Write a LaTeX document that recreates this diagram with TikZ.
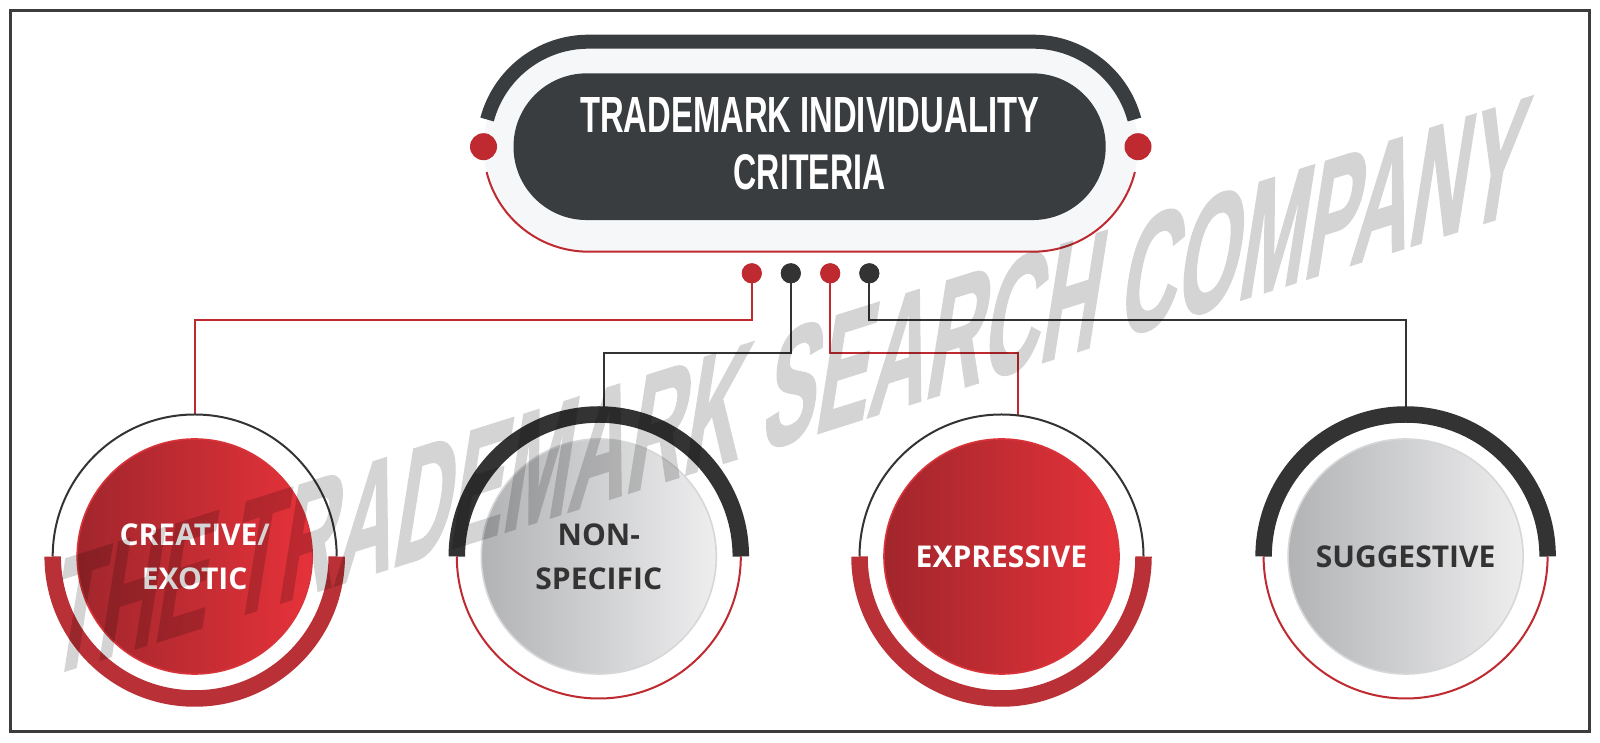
\documentclass[tikz,border=0pt]{standalone}
\usepackage{fontspec}
\setmainfont{Open Sans}
\newfontfamily\hfont{Liberation Sans}
\newfontfamily\wmfont{Liberation Sans}[BoldFeatures={FakeBold=1.5}]
\usepackage{graphicx}
\definecolor{rd}{HTML}{BE2A30}
\definecolor{rdband}{HTML}{B93036}
\definecolor{dk}{HTML}{333333}
\definecolor{hdk}{HTML}{3A3D3F}
\definecolor{framec}{HTML}{3C3C3C}
\definecolor{paleback}{HTML}{F6F7F9}
\definecolor{redL}{HTML}{A1262C}
\definecolor{redR}{HTML}{E6323A}
\definecolor{redrim}{HTML}{D9343A}
\definecolor{grayL}{HTML}{B2B3B5}
\definecolor{grayR}{HTML}{EEEEEF}
\definecolor{grayrim}{HTML}{D6D7D8}
\begin{document}
\begin{tikzpicture}[x=0.5pt,y=0.5pt,
  thinred/.style={draw=rd,line width=1pt},
  thindark/.style={draw=dk,line width=1pt},
  bandred/.style={draw=rdband,line width=8.25pt},
  banddark/.style={draw=dk,line width=8.25pt},
  lbl/.style={font=\bfseries\fontsize{15}{22}\selectfont,align=center},
  redfill/.style={circle,minimum size=117.5pt,inner sep=0pt,left color=redL,right color=redR,draw=redrim,line width=0.8pt,text=white,lbl},
  grayfill/.style={circle,minimum size=117.5pt,inner sep=0pt,left color=grayL,right color=grayR,draw=grayrim,line width=0.8pt,text=dk,lbl},
  dotr/.style={circle,fill=rd,minimum size=10pt,inner sep=0pt},
  dotd/.style={circle,fill=dk,minimum size=10pt,inner sep=0pt},
  hdot/.style={circle,fill=rd,minimum size=13.5pt,inner sep=0pt},
  wirered/.style={draw=rd,line width=1pt},
  wiredark/.style={draw=dk,line width=1pt}
]
\fill[white] (0,0) rectangle (1600,743);
\useasboundingbox (0,0) rectangle (1600,743);
% frame
\draw[framec,line width=1.5pt] (10.5,11) rectangle (1589.5,732.5);

% header ring
\fill[paleback] (588.5,491.3) -- (1033,491.3) arc[start angle=-90,end angle=90,radius=105]
   -- (588.5,701.3) arc[start angle=90,end angle=270,radius=105] -- cycle;
\draw[hdk,line width=7pt] (588.5,596.3) ++(165:105) arc[start angle=165,end angle=90,radius=105]
   -- (1033,701.3) arc[start angle=90,end angle=15,radius=105];
\draw[thinred] (1033,596.3) ++(-14:105) arc[start angle=-14,end angle=-90,radius=105]
   -- (588.5,491.3) arc[start angle=270,end angle=194,radius=105];
\node[hdot] (hl) at (483.5,596.3) {};
\node[hdot] (hr) at (1138,596.3) {};
\node[rectangle,rounded corners=36.6pt,minimum width=296.1pt,minimum height=73.35pt,
      fill=hdk,inner sep=0pt,text=white,align=center,
      font=\hfont\bfseries\fontsize{20}{28.75}\selectfont] (hdr) at (809.6,596.3)
  {\resizebox{229.5pt}{17.5pt}{TRADEMARK INDIVIDUALITY}\\
   \resizebox{75.8pt}{17.5pt}{CRITERIA}\rule[-3pt]{0pt}{3pt}};

% connector levels and ends
\coordinate (lvA) at (0,423);
\coordinate (lvB) at (0,390.3);
\coordinate (t1) at (194.7,328.5);
\coordinate (t2) at (604.3,328.4);
\coordinate (t3) at (1017.7,327.6);
\coordinate (t4) at (1405.6,328.5);

\node[dotr] (d1) at (751.8,469.7) {};
\node[dotd] (d2) at (790.8,469.7) {};
\node[dotr] (d3) at (830.2,469.7) {};
\node[dotd] (d4) at (869.3,469.7) {};

\draw[wirered] (d1.center) -- (d1 |- lvA) -| (t1);
\draw[wiredark] (d2.center) -- (d2 |- lvB) -| (t2);
\draw[wirered] (d3.center) -- (d3 |- lvB) -| (t3);
\draw[wiredark] (d4.center) -- (d4 |- lvA) -| (t4);
\node[dotr] at (d1) {};
\node[dotd] at (d2) {};
\node[dotr] at (d3) {};
\node[dotd] at (d4) {};

% circles
\node[redfill] (n1) at (194.7,186.5) {CREATIVE/\\EXOTIC};
\node[grayfill] (n2) at (598.8,186.5) {NON-\\SPECIFIC};
\node[redfill] (n3) at (1001.5,186.5) {EXPRESSIVE};
\node[grayfill] (n4) at (1405.6,186.5) {SUGGESTIVE};

\draw[thindark] (n1.center) ++(-142,0) arc[start angle=180,end angle=0,radius=142];
\draw[bandred] (n1.center) ++(-142,0) arc[start angle=180,end angle=360,radius=142];
\draw[thinred] (n2.center) ++(-142,0) arc[start angle=180,end angle=360,radius=142];
\draw[banddark] (n2.center) ++(-142,0) arc[start angle=180,end angle=0,radius=142];
\draw[thindark] (n3.center) ++(-142,0) arc[start angle=180,end angle=0,radius=142];
\draw[bandred] (n3.center) ++(-142,0) arc[start angle=180,end angle=360,radius=142];
\draw[thinred] (n4.center) ++(-142,0) arc[start angle=180,end angle=360,radius=142];
\draw[banddark] (n4.center) ++(-142,0) arc[start angle=180,end angle=0,radius=142];

% watermark
\begin{scope}[transparency group,opacity=0.17]
\begin{scope}[shift={(46,66.4)},cm={0.954,0.301,0.156,0.988,(0,0)}]
\node[transform shape,anchor=base west,inner sep=0pt,text=black] (wm) at (0,0)
  {\resizebox{770pt}{60pt}{\wmfont\bfseries THE TRADEMARK SEARCH COMPANY}};
\end{scope}
\end{scope}
\end{tikzpicture}
\end{document}
